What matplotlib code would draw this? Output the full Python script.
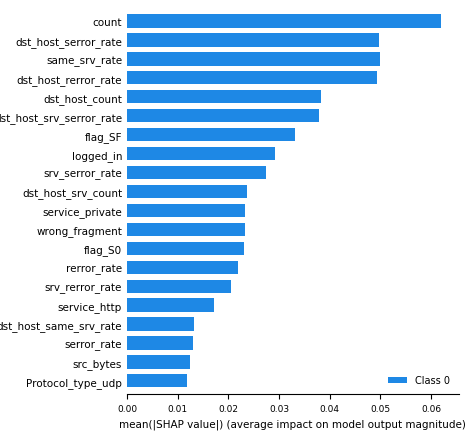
import matplotlib
matplotlib.use("Agg")
import matplotlib.pyplot as plt
import numpy as np

features = ["count", "dst_host_serror_rate", "same_srv_rate", "dst_host_rerror_rate",
            "dst_host_count", "dst_host_srv_serror_rate", "flag_SF", "logged_in",
            "srv_serror_rate", "dst_host_srv_count", "service_private", "wrong_fragment",
            "flag_S0", "rerror_rate", "srv_rerror_rate", "service_http",
            "dst_host_same_srv_rate", "serror_rate", "src_bytes", "Protocol_type_udp"]
values = [0.0620, 0.0497, 0.0499, 0.0493, 0.0383, 0.0379, 0.0332, 0.0292,
          0.0274, 0.0237, 0.0233, 0.0233, 0.0231, 0.0219, 0.0205, 0.0172,
          0.0132, 0.0130, 0.0124, 0.0118]

fig = plt.figure(figsize=(4.74, 4.39), dpi=100)
ax = fig.add_axes([0.268, 0.10, 0.70, 0.88])
y = np.arange(len(features))[::-1]
ax.barh(y, values, height=0.7, color="#1E88E5", label="Class 0")
ax.set_yticks(y)
ax.set_yticklabels(features, fontsize=7.5)
ax.set_ylim(-0.7, len(features) - 0.3)
ax.set_xlim(0, 0.0655)
ax.set_xticks([0, 0.01, 0.02, 0.03, 0.04, 0.05, 0.06])
ax.set_xticklabels(["0.00", "0.01", "0.02", "0.03", "0.04", "0.05", "0.06"], fontsize=6.5)
ax.set_xlabel("mean(|SHAP value|) (average impact on model output magnitude)", fontsize=7.5)
for s in ["top", "right", "left"]:
    ax.spines[s].set_visible(False)
ax.tick_params(axis="y", length=0)
ax.legend(loc="lower right", frameon=False, fontsize=7)
fig.savefig("out.png", dpi=100)
